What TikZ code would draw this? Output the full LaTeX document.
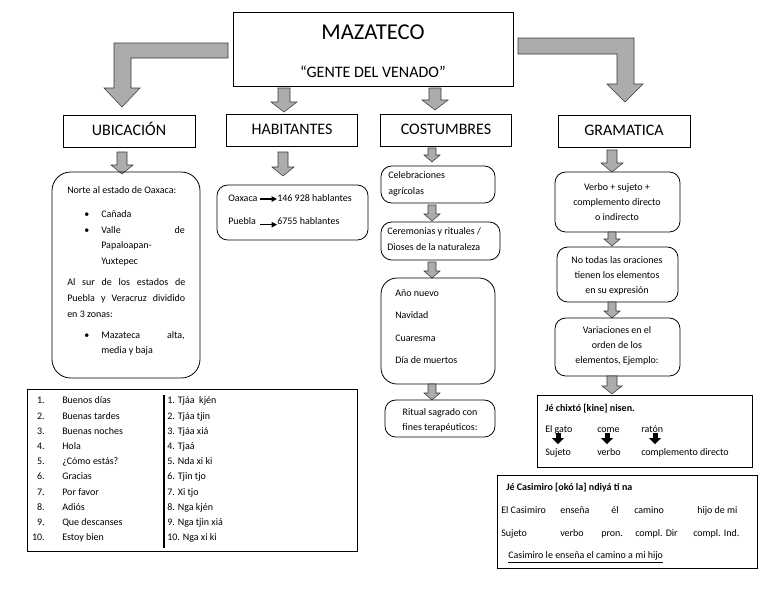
\documentclass[tikz,border=0pt]{standalone}
\usepackage{fontspec}
\setmainfont{Carlito}
\usetikzlibrary{arrows.meta}
\begin{document}
\begin{tikzpicture}[x=0.75pt,y=-0.75pt,
  garr/.style={fill=gray!65,draw=gray!45!black,line width=0.4pt},
  hdr/.style={draw,line width=0.6pt,minimum width=#1*0.75pt,minimum height=24pt,font=\fontsize{12}{14}\selectfont,inner sep=0pt,text height=8.5pt,text depth=2.5pt},
  rbox/.style={draw,line width=0.6pt,rounded corners=8pt},
  t/.style={anchor=west,inner sep=0pt,font=\fontsize{7.5}{9}\selectfont,text height=5.5pt,text depth=1.5pt},
  tc/.style={inner sep=0pt,font=\fontsize{7.5}{9}\selectfont,align=center,text height=5.5pt,text depth=1.5pt},
  bt/.style={t,font=\fontsize{7.5}{9}\selectfont\bfseries}]
\newcommand\garrow[6]{\draw[garr] (#1-#4,#2) -- (#1+#4,#2) -- (#1+#4,#3-#6) -- (#1+#5,#3-#6) -- (#1,#3) -- (#1-#5,#3-#6) -- (#1-#4,#3-#6) -- cycle;}
\newcommand\karrow[2]{\fill (#1-2.5,#2-5) rectangle (#1+2.5,#2); \fill (#1-6,#2) -- (#1+6,#2) -- (#1,#2+6) -- cycle;}
\fill[white] (0,0) rectangle (768,594);
\useasboundingbox (0,0) rectangle (768,594);
% main box
\draw[line width=0.7pt] (233,12) rectangle (513,86);
\node[font=\fontsize{17}{19}\selectfont] (mz) at (373,32) {MAZATECO};
\node[font=\fontsize{12}{14}\selectfont] (gv) at (373,72) {“GENTE DEL VENADO”};
% bent arrows
\draw[garr] (228,43) -- (228,58) -- (131,58) -- (131,88) -- (140,88) -- (122,107) -- (104,88) -- (114,88) -- (114,43) -- cycle;
\draw[garr] (518,38) -- (634,38) -- (634,84) -- (643,84) -- (625,102) -- (607,84) -- (617,84) -- (617,54) -- (518,54) -- cycle;
\garrow{284}{88}{112}{6}{13}{10}
\garrow{435}{88}{110}{6}{13}{10}
% headers
\node[hdr=132] (ub) at (129,131) {UBICACIÓN};
\node[hdr=131] (hb) at (292,130) {HABITANTES};
\node[hdr=131] (co) at (446,130) {COSTUMBRES};
\node[hdr=132] (gr) at (624,131) {GRAMATICA};
\garrow{122}{152}{174}{5}{11}{9}
\garrow{283}{152}{176}{5}{11}{9}
\garrow{432}{148}{162}{4}{8}{7}
\garrow{612}{150}{172}{5}{11}{9}
% ubicacion
\draw[rbox,rounded corners=14pt] (52,172) rectangle (200,378);
\node[t] at (67,191) {Norte al estado de Oaxaca:};
\node[t] at (84,215) {•}; \node[t] at (101,215) {Cañada};
\node[t] at (84,231) {•}; \node[t] at (101,231) {Valle}; \node[t,anchor=east] at (185,231) {de};
\node[t] at (101,246) {Papaloapan-};
\node[t] at (101,262) {Yuxtepec};
\node[t] at (67,283) {\makebox[88.5pt][s]{Al sur de los estados de}};
\node[t] at (67,299) {\makebox[88.5pt][s]{Puebla y Veracruz dividido}};
\node[t] at (67,315) {en 3 zonas:};
\node[t] at (84,336) {•}; \node[t] at (101,336) {Mazateca}; \node[t,anchor=east] at (185,336) {alta,};
\node[t] at (101,351) {media y baja};
% habitantes
\draw[rbox] (217,185) rectangle (368,240);
\node[t] (oa) at (228,199) {Oaxaca};
\node[t] (oan) at (277,199) {146 928 hablantes};
\node[t] (pu) at (228,222) {Puebla};
\node[t] (pun) at (277,222) {6755 hablantes};
\draw[-{Triangle[length=4pt,width=4pt]},line width=1.6pt] ([xshift=2pt]oa.east) -- (oan.west);
\draw[-{Triangle[length=4pt,width=4pt]},line width=1pt] ([xshift=3pt,yshift=-2pt]pu.east) -- ([yshift=-2pt]pun.west);
% costumbres
\draw[rbox] (381,166) rectangle (495,203);
\node[t] at (388,176) {Celebraciones};
\node[t] at (388,192) {agrícolas};
\garrow{432}{205}{221}{4}{8}{7}
\draw[rbox] (381,222) rectangle (500,260);
\node[t] at (387,232) {Ceremonias y rituales /};
\node[t] at (387,248) {Dioses de la naturaleza};
\garrow{432}{262}{278}{4}{8}{7}
\draw[rbox,rounded corners=12pt] (381,278) rectangle (495,384);
\node[t] at (395,294) {Año nuevo};
\node[t] at (395,316) {Navidad};
\node[t] at (395,339) {Cuaresma};
\node[t] at (395,361) {Día de muertos};
\garrow{432}{384}{400}{4}{8}{7}
\draw[rbox] (385,400) rectangle (495,437);
\node[tc] at (440,413) {Ritual sagrado con};
\node[tc] at (440,428) {fines terapéuticos:};
% gramatica
\draw[rbox] (555,172) rectangle (680,232);
\node[tc] at (617,188) {Verbo + sujeto +};
\node[tc] at (617,203) {complemento directo};
\node[tc] at (617,218) {o indirecto};
\garrow{612}{232}{246}{4}{8}{7}
\draw[rbox] (557,247) rectangle (678,302);
\node[tc] at (617,261) {No todas las oraciones};
\node[tc] at (617,276) {tienen los elementos};
\node[tc] at (617,291) {en su expresión};
\garrow{612}{302}{318}{4}{8}{7}
\draw[rbox] (555,318) rectangle (680,376);
\node[tc] at (617,331) {Variaciones en el};
\node[tc] at (617,346) {orden de los};
\node[tc] at (617,361) {elementos, Ejemplo:};
\garrow{612}{376}{394}{5}{10}{8}
\draw[line width=0.7pt] (537,395) rectangle (752,467);
\node[bt] at (545,409) {Jé chixtó [kine] nisen.};
\node[t] at (545,430) {El gato}; \node[t] at (597,430) {come}; \node[t] at (641,430) {ratón};
\karrow{558}{438} \karrow{607}{438} \karrow{655}{438}
\node[t] at (545,453) {Sujeto}; \node[t] at (597,453) {verbo}; \node[t] at (641,453) {complemento directo};
\draw[line width=0.7pt] (497,475) rectangle (757,568);
\node[bt] at (506,488) {Jé Casimiro [okó la] ndiyá ti na};
\node[t] at (501,511) {El Casimiro}; \node[t] at (560,511) {enseña}; \node[t] at (611,511) {él}; \node[t] at (634,511) {camino}; \node[t] at (697,511) {hijo de mi};
\node[t] at (501,534) {Sujeto}; \node[t] at (560,534) {verbo}; \node[t] at (601,534) {pron.}; \node[t] at (635,534) {compl. Dir}; \node[t] at (693,534) {compl. Ind.};
\node[t] at (508,556) {\underline{Casimiro le enseña el camino a mi hijo}};
% list
\draw[line width=0.7pt] (27,389) rectangle (357,551);
\draw[line width=1pt] (164,395) -- (164,548);
\foreach \i/\a/\b [count=\n] in {1/Buenos días/Tjáa\ \ kjén, 2/Buenas tardes/Tjáa tjin, 3/Buenas noches/Tjáa xiá, 4/Hola/Tjaá, 5/¿Cómo estás?/Nda xi ki, 6/Gracias/Tjin tjo, 7/Por favor/Xi tjo, 8/Adiós/Nga kjén, 9/Que descanses/Nga tjin xiá, 10/Estoy bien/Nga xi ki}{
  \node[t,anchor=east] at (45,386+15.2*\n) {\i.};
  \node[t] at (62,386+15.2*\n) {\a};
  \node[t] at (167,386+15.2*\n) {\i. \b};
}
\end{tikzpicture}
\end{document}
